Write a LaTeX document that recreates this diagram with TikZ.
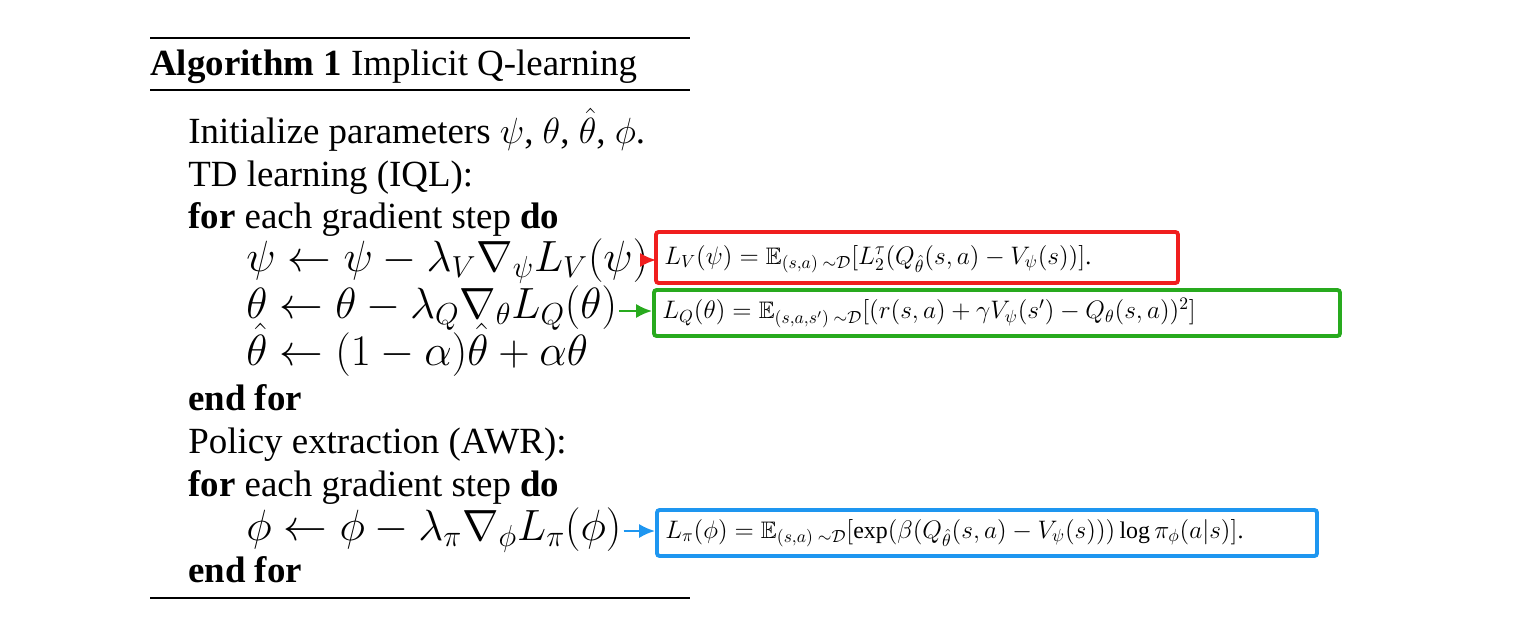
\documentclass[tikz,border=0pt]{standalone}
\usepackage{amsmath,amssymb}
\usepackage{fontspec}
\setmainfont{Liberation Serif}
\usetikzlibrary{arrows.meta}
\definecolor{cred}{RGB}{240,30,30}
\definecolor{cgreen}{RGB}{40,170,30}
\definecolor{cblue}{RGB}{30,150,240}
\begin{document}
\begin{tikzpicture}[x=0.02cm,y=-0.02cm,
  txt/.style={anchor=base west,inner sep=0pt,font=\fontsize{21}{24}\selectfont},
  mth/.style={anchor=base west,inner sep=0pt,font=\fontsize{23.5}{26}\selectfont},
  eq/.style={anchor=west,inner sep=0pt,font=\fontsize{13.6}{16}\selectfont},
  bx/.style={draw=#1,line width=2.2pt,rounded corners=1.5pt},
  ar/.style={-{Latex[length=9pt,width=8pt]},draw=#1,line width=1.3pt}]
\useasboundingbox (0,0) rectangle (1521,619);
\draw[line width=1.3pt] (150,38) -- (690,38);
\draw[line width=0.7pt] (150,90) -- (690,90);
\draw[line width=0.9pt] (150,598) -- (690,598);
\node[txt] (title) at (150,75) {\textbf{Algorithm 1} Implicit Q-learning};
\node[txt] (l1) at (188,143) {Initialize parameters $\psi$, $\theta$, $\hat\theta$, $\phi$.};
\node[txt] (l2) at (188,186) {TD learning (IQL):};
\node[txt] (l3) at (188,228) {\textbf{for} each gradient step \textbf{do}};
\node[mth] (l4) at (246,271) {$\psi \leftarrow \psi - \lambda_V \nabla_\psi L_V(\psi)$};
\node[mth] (l5) at (246,318) {$\theta \leftarrow \theta - \lambda_Q \nabla_\theta L_Q(\theta)$};
\node[mth] (l6) at (246,365) {$\hat\theta \leftarrow (1-\alpha)\hat\theta + \alpha\theta$};
\node[txt] (l7) at (188,410) {\textbf{end for}};
\node[txt] (l8) at (188,453) {Policy extraction (AWR):};
\node[txt] (l9) at (188,496) {\textbf{for} each gradient step \textbf{do}};
\node[mth] (l10) at (246,540) {$\phi \leftarrow \phi - \lambda_\pi \nabla_\phi L_\pi(\phi)$};
\node[txt] (l11) at (188,582) {\textbf{end for}};
\draw[bx=cred] (656,232) rectangle (1178,283);
\draw[bx=cgreen] (654,290) rectangle (1340,336);
\draw[bx=cblue] (657,510) rectangle (1317,556);
\node[eq] (e1) at (664,259) {$L_V(\psi)=\mathbb{E}_{(s,a)\;\sim\mathcal{D}}[L_2^\tau(Q_{\hat\theta}(s,a)-V_\psi(s))]$.};
\node[eq] (e2) at (662,313) {$L_Q(\theta)=\mathbb{E}_{(s,a,s')\;\sim\mathcal{D}}[(r(s,a)+\gamma V_\psi(s')-Q_\theta(s,a))^2]$};
\node[eq] (e3) at (665,533) {$L_\pi(\phi)=\mathbb{E}_{(s,a)\;\sim\mathcal{D}}[\exp(\beta(Q_{\hat\theta}(s,a)-V_\psi(s)))\log\pi_\phi(a|s)]$.};
\coordinate (a1) at (656,260);
\coordinate (a2) at (652,311);
\coordinate (a3) at (655,531);
\draw[ar=cred] (l4.east |- a1) ++(2,0) -- (a1);
\draw[ar=cgreen] (l5.east |- a2) ++(2,0) -- (a2);
\draw[ar=cblue] (l10.east |- a3) ++(2,0) -- (a3);
\end{tikzpicture}
\end{document}
